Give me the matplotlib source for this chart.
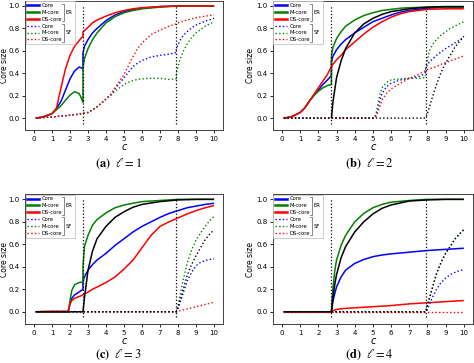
import numpy as np
import matplotlib.pyplot as plt
from matplotlib.lines import Line2D
from matplotlib.patches import Rectangle

plt.rcParams['mathtext.fontset'] = 'stix'

# ---------------- data ----------------
# panel (a), l = 1
a_er_c = [0.1, 0.5, 1.0, 1.25, 1.5, 1.75, 2.0, 2.25, 2.5, 2.6, 2.72, 2.72, 2.8, 3.0,
          3.25, 3.5, 4.0, 4.5, 5.0, 5.5, 6.0, 7.0, 8.0, 9.0, 10.0]
a_er_core = [0.0, 0.01, 0.04, 0.085, 0.15, 0.25, 0.35, 0.42, 0.455, 0.45, 0.44, 0.58, 0.64,
             0.70, 0.76, 0.80, 0.87, 0.92, 0.95, 0.97, 0.98, 0.995, 1.0, 1.0, 1.0]
a_er_mcore = [0.0, 0.01, 0.04, 0.075, 0.11, 0.16, 0.205, 0.235, 0.22, 0.19, 0.14, 0.45, 0.53,
              0.62, 0.70, 0.76, 0.85, 0.905, 0.94, 0.96, 0.975, 0.99, 1.0, 1.0, 1.0]
a_er_dscore = [0.0, 0.01, 0.04, 0.09, 0.27, 0.44, 0.56, 0.64, 0.69, 0.71, 0.73, 0.77, 0.78,
               0.81, 0.85, 0.875, 0.91, 0.94, 0.96, 0.975, 0.985, 0.995, 1.0, 1.0, 1.0]
a_sf_c = [0.1, 0.5, 1.0, 1.5, 2.0, 2.5, 3.0, 3.5, 4.0, 4.25, 4.5, 4.75, 5.0, 5.25, 5.5,
          5.75, 6.0, 6.5, 7.0, 7.5, 7.9, 7.9, 8.1, 8.3, 8.5, 8.75, 9.0, 9.5, 10.0]
a_sf_core = [0.0, 0.005, 0.01, 0.018, 0.025, 0.035, 0.05, 0.10, 0.17, 0.21, 0.26, 0.31, 0.36,
             0.41, 0.46, 0.49, 0.515, 0.545, 0.56, 0.57, 0.585, 0.62, 0.69, 0.74, 0.77,
             0.805, 0.83, 0.865, 0.89]
a_sf_mcore = [0.0, 0.005, 0.01, 0.018, 0.025, 0.035, 0.05, 0.10, 0.17, 0.20, 0.24, 0.27, 0.30,
              0.32, 0.335, 0.345, 0.35, 0.355, 0.355, 0.345, 0.35, 0.40, 0.52, 0.60, 0.66,
              0.72, 0.76, 0.82, 0.86]
a_sf_dscore = [0.0, 0.005, 0.01, 0.018, 0.025, 0.035, 0.05, 0.10, 0.17, 0.21, 0.27, 0.33, 0.39,
               0.47, 0.55, 0.62, 0.67, 0.745, 0.785, 0.82, 0.84, 0.845, 0.855, 0.865, 0.875,
               0.885, 0.895, 0.91, 0.92]

# panel (b), l = 2
b_er_c = [0.1, 0.5, 1.0, 1.25, 1.5, 1.75, 2.0, 2.25, 2.5, 2.72, 2.72, 2.8, 3.0, 3.25, 3.5,
          4.0, 4.5, 5.0, 5.5, 6.0, 6.5, 7.0, 8.0, 9.0, 10.0]
b_er_core = [0.0, 0.01, 0.05, 0.09, 0.15, 0.20, 0.25, 0.30, 0.34, 0.38, 0.50, 0.55, 0.61,
             0.66, 0.70, 0.76, 0.81, 0.86, 0.89, 0.92, 0.945, 0.96, 0.98, 0.99, 0.99]
b_er_mcore = [0.0, 0.01, 0.05, 0.09, 0.15, 0.20, 0.24, 0.27, 0.29, 0.30, 0.55, 0.63, 0.71,
              0.77, 0.82, 0.875, 0.915, 0.94, 0.96, 0.97, 0.98, 0.985, 0.99, 0.99, 0.99]
b_er_dscore = [0.0, 0.01, 0.05, 0.09, 0.15, 0.21, 0.27, 0.33, 0.39, 0.46, 0.46, 0.48, 0.52,
               0.56, 0.61, 0.68, 0.75, 0.81, 0.86, 0.90, 0.93, 0.95, 0.97, 0.975, 0.975]
b_er_k_c = [2.72, 2.8, 3.0, 3.25, 3.5, 4.0, 4.5, 5.0, 5.5, 6.0, 7.0, 8.0, 9.0, 10.0]
b_er_k = [0.0, 0.14, 0.36, 0.51, 0.62, 0.76, 0.84, 0.89, 0.925, 0.95, 0.975, 0.99, 0.995, 0.995]
b_sf_c = [0.1, 1.0, 2.0, 3.0, 4.0, 5.0, 5.1, 5.2, 5.3, 5.4, 5.5, 5.75, 6.0, 6.5, 7.0, 7.5,
          7.8, 7.9, 7.9, 8.1, 8.3, 8.5, 8.75, 9.0, 9.25, 9.5, 9.75, 10.0]
b_sf_core = [0, 0, 0, 0, 0, 0, 0.005, 0.04, 0.10, 0.16, 0.22, 0.28, 0.31, 0.34, 0.355, 0.37,
             0.39, 0.41, 0.45, 0.50, 0.53, 0.56, 0.59, 0.62, 0.645, 0.67, 0.695, 0.72]
b_sf_mcore = [0, 0, 0, 0, 0, 0, 0.01, 0.06, 0.15, 0.22, 0.27, 0.32, 0.34, 0.35, 0.355, 0.355,
              0.36, 0.37, 0.44, 0.60, 0.66, 0.70, 0.74, 0.77, 0.80, 0.82, 0.84, 0.86]
b_sf_dscore = [0, 0, 0, 0, 0, 0, 0.003, 0.02, 0.06, 0.11, 0.16, 0.22, 0.26, 0.31, 0.355, 0.39,
               0.415, 0.425, 0.425, 0.44, 0.45, 0.46, 0.48, 0.495, 0.51, 0.525, 0.54, 0.555]
b_sf_k_c = [0.1, 7.9, 8.0, 8.2, 8.5, 8.75, 9.0, 9.25, 9.5, 9.75, 10.0]
b_sf_k = [0, 0, 0.04, 0.15, 0.30, 0.41, 0.49, 0.56, 0.63, 0.68, 0.73]

# panel (c), l = 3
c_er_c = [0.1, 0.5, 1.0, 1.5, 1.9, 2.0, 2.1, 2.25, 2.5, 2.72, 2.72, 2.8, 3.0, 3.25, 3.5,
          4.0, 4.5, 5.0, 5.5, 6.0, 6.5, 7.0, 7.5, 8.0, 8.5, 9.0, 9.5, 10.0]
c_er_core = [0, 0, 0, 0, 0, 0.07, 0.12, 0.15, 0.175, 0.20, 0.27, 0.31, 0.37, 0.42, 0.46,
             0.52, 0.59, 0.65, 0.71, 0.76, 0.80, 0.84, 0.875, 0.90, 0.925, 0.94, 0.955, 0.965]
c_er_mcore = [0, 0, 0, 0, 0, 0.10, 0.19, 0.24, 0.26, 0.265, 0.40, 0.58, 0.68, 0.77, 0.82,
              0.88, 0.925, 0.95, 0.965, 0.98, 0.985, 0.99, 0.995, 1.0, 1.0, 1.0, 1.0, 1.0]
c_er_dscore = [0, 0.003, 0.005, 0.005, 0.005, 0.07, 0.10, 0.12, 0.135, 0.15, 0.15, 0.16, 0.175,
               0.20, 0.22, 0.26, 0.31, 0.38, 0.46, 0.57, 0.68, 0.76, 0.80, 0.835, 0.87, 0.90,
               0.925, 0.945]
c_er_k_c = [0.1, 2.72, 2.8, 3.0, 3.25, 3.5, 4.0, 4.5, 5.0, 5.5, 6.0, 7.0, 8.0, 9.0, 10.0]
c_er_k = [0, 0, 0.12, 0.37, 0.54, 0.65, 0.76, 0.84, 0.89, 0.93, 0.955, 0.98, 0.995, 1.0, 1.0]
c_sf_c = [0.1, 7.9, 8.0, 8.25, 8.5, 8.75, 9.0, 9.25, 9.5, 9.75, 10.0]
c_sf_core = [0, 0, 0.03, 0.15, 0.27, 0.35, 0.41, 0.44, 0.455, 0.465, 0.47]
c_sf_mcore = [0, 0, 0.06, 0.26, 0.43, 0.55, 0.64, 0.70, 0.76, 0.81, 0.85]
c_sf_dscore = [0, 0, 0.005, 0.015, 0.025, 0.035, 0.045, 0.055, 0.065, 0.075, 0.085]
c_sf_k = [0, 0, 0.04, 0.18, 0.32, 0.42, 0.50, 0.57, 0.64, 0.69, 0.73]

# panel (d), l = 4
d_er_c = [0.1, 2.72, 2.8, 2.9, 3.0, 3.25, 3.5, 4.0, 4.5, 5.0, 5.5, 6.0, 7.0, 8.0, 9.0, 10.0]
d_er_core = [0, 0, 0.09, 0.16, 0.22, 0.31, 0.37, 0.43, 0.465, 0.49, 0.505, 0.515, 0.53,
             0.545, 0.555, 0.565]
d_er_mcore = [0, 0, 0.2, 0.36, 0.46, 0.59, 0.68, 0.80, 0.875, 0.925, 0.955, 0.975, 0.99,
              1.0, 1.0, 1.0]
d_er_dscore = [0, 0, 0.008, 0.015, 0.02, 0.027, 0.03, 0.035, 0.04, 0.045, 0.05, 0.055, 0.07,
               0.08, 0.09, 0.10]
d_er_k = [0, 0, 0.12, 0.24, 0.33, 0.48, 0.58, 0.71, 0.80, 0.87, 0.92, 0.95, 0.985, 0.995,
          1.0, 1.0]
d_sf_c = [0.1, 7.9, 8.0, 8.25, 8.5, 8.75, 9.0, 9.25, 9.5, 9.75, 10.0]
d_sf_core = [0, 0, 0.02, 0.12, 0.20, 0.26, 0.30, 0.33, 0.35, 0.365, 0.375]
d_sf_mcore = [0, 0, 0.06, 0.20, 0.34, 0.44, 0.52, 0.58, 0.645, 0.69, 0.73]
d_sf_dscore = [0, 0, 0, 0, 0, 0, 0, 0, 0, 0, 0]
d_sf_k = [0, 0, 0.06, 0.20, 0.34, 0.44, 0.52, 0.58, 0.645, 0.69, 0.73]

thresholds = [2.72, 7.9]
labels = ['Core', 'M-core', 'DS-core']
captions = [r'$\mathbf{(a)}\ \ \ell = 1$', r'$\mathbf{(b)}\ \ \ell = 2$',
            r'$\mathbf{(c)}\ \ \ell = 3$', r'$\mathbf{(d)}\ \ \ell = 4$']

# ---------------- figure ----------------
fig = plt.figure(figsize=(4.74, 3.63), dpi=100)
rects = [[0.0527, 0.641, 0.418, 0.357], [0.5757, 0.641, 0.422, 0.357],
         [0.0527, 0.1074, 0.418, 0.358], [0.5757, 0.1074, 0.422, 0.358]]
cap_pos = [(0.249, 0.548), (0.78, 0.548), (0.249, 0.022), (0.78, 0.022)]

panels = [
    ([(a_er_c, a_er_core, 'b'), (a_er_c, a_er_mcore, 'g'), (a_er_c, a_er_dscore, 'r')],
     [(a_sf_c, a_sf_core, 'b'), (a_sf_c, a_sf_mcore, 'g'), (a_sf_c, a_sf_dscore, 'r')]),
    ([(b_er_c, b_er_core, 'b'), (b_er_c, b_er_mcore, 'g'), (b_er_c, b_er_dscore, 'r'),
      (b_er_k_c, b_er_k, 'k')],
     [(b_sf_c, b_sf_core, 'b'), (b_sf_c, b_sf_mcore, 'g'), (b_sf_c, b_sf_dscore, 'r'),
      (b_sf_k_c, b_sf_k, 'k')]),
    ([(c_er_c, c_er_core, 'b'), (c_er_c, c_er_mcore, 'g'), (c_er_c, c_er_dscore, 'r'),
      (c_er_k_c, c_er_k, 'k')],
     [(c_sf_c, c_sf_core, 'b'), (c_sf_c, c_sf_mcore, 'g'), (c_sf_c, c_sf_dscore, 'r'),
      (c_sf_c, c_sf_k, 'k')]),
    ([(d_er_c, d_er_core, 'b'), (d_er_c, d_er_mcore, 'g'), (d_er_c, d_er_dscore, 'r'),
      (d_er_c, d_er_k, 'k')],
     [(d_sf_c, d_sf_core, 'b'), (d_sf_c, d_sf_mcore, 'g'), (d_sf_c, d_sf_dscore, 'r'),
      (d_sf_c, d_sf_k, 'k')]),
]

lfs = 3.8
axes, legs = [], []
for i, (rect, (er, sf), cap, cp) in enumerate(zip(rects, panels, captions, cap_pos)):
    ax = fig.add_axes(rect)
    for c, y, col in er:
        ax.plot(c, y, color=col, lw=1.1, solid_capstyle='butt')
    for c, y, col in sf:
        ax.plot(c, y, color=col, lw=1.0, ls=':')
    ax.vlines(thresholds, -0.05, 1.0, colors='k', linestyles=':', lw=0.9)
    ax.set_xlim(-0.5, 10.5)
    ax.set_ylim(-0.109, 1.047)
    ax.set_xticks(range(11))
    ax.set_yticks([0.0, 0.2, 0.4, 0.6, 0.8, 1.0])
    ax.tick_params(labelsize=5, length=2.5, width=0.6, pad=1.5)
    for s in ax.spines.values():
        s.set_linewidth(0.7)
        s.set_color('0.25')
    ax.set_xlabel('c', fontsize=7, style='italic', labelpad=0)
    ax.set_ylabel('Core size', fontsize=5.5)
    ax.yaxis.set_label_coords(-0.083 if i % 2 == 0 else -0.09, 0.5)

    handles = [Line2D([], [], color=col, lw=1.8) for col in 'bgr']
    handles += [Line2D([], [], color=col, lw=1.0, ls=':') for col in 'bgr']
    leg = ax.legend(handles, labels + labels, loc='upper left', bbox_to_anchor=(0, 1),
                    borderaxespad=0.1, fontsize=lfs, frameon=False, handlelength=2.3,
                    handletextpad=0.4, labelspacing=0.35, borderpad=0.35)
    leg.set_zorder(6)
    fig.text(cp[0], cp[1], cap, ha='center', va='center', fontsize=9)
    axes.append(ax)
    legs.append(leg)

# brackets with ER / SF next to the legend entries, and the legend frame
fig.canvas.draw()
r = fig.canvas.get_renderer()
for ax, leg in zip(axes, legs):
    inv = ax.transAxes.inverted()
    bbs = [t.get_window_extent(r) for t in leg.get_texts()]
    xr = max(bb.x1 for bb in bbs) + 2.0
    right = xr
    for grp, name in ((bbs[0:3], 'ER'), (bbs[3:6], 'SF')):
        ytop = grp[0].y1 - 0.5
        ybot = grp[2].y0 + 0.5
        pts = inv.transform([(xr - 2.5, ytop), (xr, ytop), (xr, ybot), (xr - 2.5, ybot)])
        ax.plot(pts[:, 0], pts[:, 1], transform=ax.transAxes, color='0.35', lw=0.5,
                zorder=7, clip_on=False)
        tp = inv.transform([(xr + 1.0, 0.5 * (ytop + ybot))])[0]
        t = ax.text(tp[0], tp[1], name, transform=ax.transAxes, fontsize=lfs,
                    va='center', ha='left', zorder=7)
        right = max(right, t.get_window_extent(r).x1)
    lb = leg.get_window_extent(r)
    p0 = inv.transform([(lb.x0, lb.y0)])[0]
    p1 = inv.transform([(right + 2.5, lb.y1)])[0]
    ax.add_patch(Rectangle(p0, p1[0] - p0[0], p1[1] - p0[1], transform=ax.transAxes,
                           fc='white', ec='0.75', lw=0.6, alpha=0.9, zorder=5.5,
                           clip_on=False))

fig.savefig('out.png', dpi=100)
